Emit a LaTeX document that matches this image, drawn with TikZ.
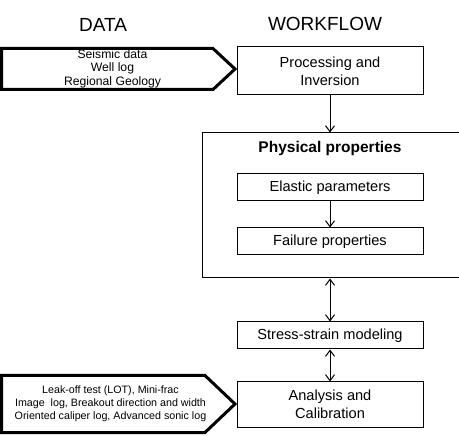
\documentclass[tikz,border=0pt]{standalone}
\usepackage{fontspec}
\setmainfont{Liberation Sans}
\usetikzlibrary{arrows.meta}

\tikzset{
  wfbox/.style={draw, line width=1pt, minimum width=186pt, align=center,
    inner sep=0pt, font=\fontsize{14.6}{18.3}\selectfont},
  datashape/.style={draw, line width=3pt, line join=miter},
  datatext/.style={align=center, inner sep=0pt},
  heading/.style={font=\fontsize{19}{22}\selectfont},
  flow/.style={line width=1pt, -{Straight Barb[length=6pt,width=9pt]}},
  twoway/.style={line width=1pt,
    {Straight Barb[length=6pt,width=9pt]}-{Straight Barb[length=6pt,width=9pt]}}
}

\begin{document}
\begin{tikzpicture}[x=1pt,y=-1pt]
\useasboundingbox (0,0) rectangle (459,436);

% headings
\node[heading] (datahead) at (103,25) {DATA};
\node[heading] (wfhead) at (325,24) {WORKFLOW};

% workflow boxes
\node[wfbox, minimum height=48pt] (proc) at (330,71) {Processing and\\Inversion};
\node[draw, line width=1pt, minimum width=260pt, minimum height=145pt] (phys) at (332,205.5) {};
\node[font=\fontsize{15.5}{18}\selectfont\bfseries] (physhead) at (330,148) {Physical properties};
\node[wfbox, minimum height=27pt] (elastic) at (330,187.5) {Elastic parameters};
\node[wfbox, minimum height=27pt] (failure) at (330,241.5) {Failure properties};
\node[wfbox, minimum height=27pt] (stress) at (330,335.5) {Stress-strain modeling};
\node[wfbox, minimum height=45pt] (analysis) at (330,404.5) {Analysis and\\Calibration};

% data inputs
\draw[datashape] (1.5,48.5) -- (213,48.5) -- (235,69) -- (213,89.5) -- (1.5,89.5) -- cycle;
\node[datatext, font=\fontsize{12.2}{13.5}\selectfont] (seismic) at (112.5,68.5)
  {Seismic data\\Well log\\Regional Geology};

\draw[datashape] (1.5,375.5) -- (205,375.5) -- (235,404) -- (205,432.5) -- (1.5,432.5) -- cycle;
\node[datatext, font=\fontsize{10.7}{13}\selectfont] (calib) at (110.5,404)
  {Leak-off test (LOT), Mini-frac\\Image\ \ log, Breakout direction and width\\Oriented caliper log, Advanced sonic log};

% connectors
\draw[flow] (proc.south) -- (proc.south |- phys.north);
\draw[flow] (elastic) -- (failure);
\draw[twoway] (phys.south -| stress.north) -- (stress.north);
\draw[twoway] (stress) -- (analysis);

\end{tikzpicture}
\end{document}
